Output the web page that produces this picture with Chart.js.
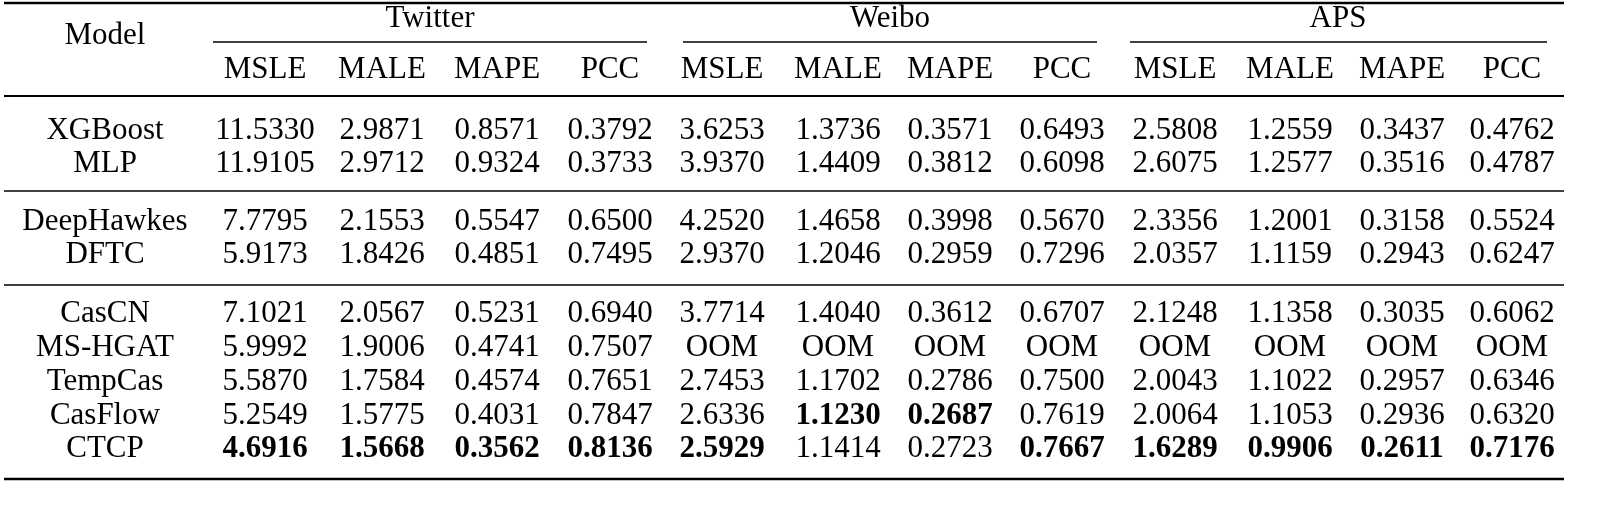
<!DOCTYPE html>
<html><head><meta charset="utf-8">
<script src="https://cdn.jsdelivr.net/npm/chart.js@4"></script>
<style>body{margin:0;background:#fff}canvas{display:block}</style>
</head><body>
<canvas id="c" width="1624" height="509"></canvas>
<script>
// table data
const groups = ["Twitter", "Weibo", "APS"];
const metrics = ["MSLE", "MALE", "MAPE", "PCC"];
const models = ["XGBoost", "MLP", "DeepHawkes", "DFTC", "CasCN", "MS-HGAT", "TempCas", "CasFlow", "CTCP"];
const values = [
  ["11.5330","2.9871","0.8571","0.3792","3.6253","1.3736","0.3571","0.6493","2.5808","1.2559","0.3437","0.4762"],
  ["11.9105","2.9712","0.9324","0.3733","3.9370","1.4409","0.3812","0.6098","2.6075","1.2577","0.3516","0.4787"],
  ["7.7795","2.1553","0.5547","0.6500","4.2520","1.4658","0.3998","0.5670","2.3356","1.2001","0.3158","0.5524"],
  ["5.9173","1.8426","0.4851","0.7495","2.9370","1.2046","0.2959","0.7296","2.0357","1.1159","0.2943","0.6247"],
  ["7.1021","2.0567","0.5231","0.6940","3.7714","1.4040","0.3612","0.6707","2.1248","1.1358","0.3035","0.6062"],
  ["5.9992","1.9006","0.4741","0.7507","OOM","OOM","OOM","OOM","OOM","OOM","OOM","OOM"],
  ["5.5870","1.7584","0.4574","0.7651","2.7453","1.1702","0.2786","0.7500","2.0043","1.1022","0.2957","0.6346"],
  ["5.2549","1.5775","0.4031","0.7847","2.6336","1.1230","0.2687","0.7619","2.0064","1.1053","0.2936","0.6320"],
  ["4.6916","1.5668","0.3562","0.8136","2.5929","1.1414","0.2723","0.7667","1.6289","0.9906","0.2611","0.7176"]
];
// bold cells as [row, col]
const bold = [[7,5],[7,6],[8,0],[8,1],[8,2],[8,3],[8,4],[8,7],[8,8],[8,9],[8,10],[8,11]];

// layout (pixel positions on the hidden linear scales)
const modelX = 105;
const colX = [265,382,497,610,722,838,950,1062,1175,1290,1402,1512];
const groupX = [430,890,1338];
const groupLines = [[213,647],[683,1097],[1130,1547]];
const rowY = [131,164,222,255,314,348,382,416,449];
const rules = [[3,2.5],[96,2],[191,1.5],[285,1.5],[479,2.5]];

const tablePlugin = {
  id: "table",
  afterDraw(chart) {
    const {ctx, scales: {x, y}} = chart;
    const px = v => x.getPixelForValue(v), py = v => y.getPixelForValue(v);
    ctx.save();
    ctx.fillStyle = "#000"; ctx.strokeStyle = "#000";
    ctx.textAlign = "center"; ctx.textBaseline = "middle";
    const font = b => (b ? "bold " : "") + "31px 'Liberation Serif', 'DejaVu Serif', serif";
    rules.forEach(([ry, w]) => {
      ctx.lineWidth = w; ctx.beginPath();
      ctx.moveTo(px(4), py(ry)); ctx.lineTo(px(1564), py(ry)); ctx.stroke();
    });
    ctx.lineWidth = 1.5;
    groupLines.forEach(([a, b]) => {
      ctx.beginPath(); ctx.moveTo(px(a), py(42)); ctx.lineTo(px(b), py(42)); ctx.stroke();
    });
    ctx.font = font(false);
    ctx.fillText("Model", px(modelX), py(36));
    groups.forEach((g, i) => ctx.fillText(g, px(groupX[i]), py(19)));
    colX.forEach((cx, i) => ctx.fillText(metrics[i % 4], px(cx), py(70)));
    models.forEach((m, r) => {
      ctx.font = font(false);
      ctx.fillText(m, px(modelX), py(rowY[r]));
      values[r].forEach((v, c) => {
        ctx.font = font(bold.some(([br, bc]) => br === r && bc === c));
        ctx.fillText(v, px(colX[c]), py(rowY[r]));
      });
    });
    ctx.restore();
  }
};

new Chart(document.getElementById("c"), {
  type: "scatter",
  data: { datasets: [{ data: [] }] },
  options: {
    responsive: false, animation: false,
    layout: { padding: 0 },
    plugins: { legend: { display: false }, tooltip: { enabled: false } },
    scales: {
      x: { type: "linear", min: 0, max: 1624, display: false },
      y: { type: "linear", min: 0, max: 509, reverse: true, display: false }
    }
  },
  plugins: [tablePlugin]
});
</script>
</body></html>
